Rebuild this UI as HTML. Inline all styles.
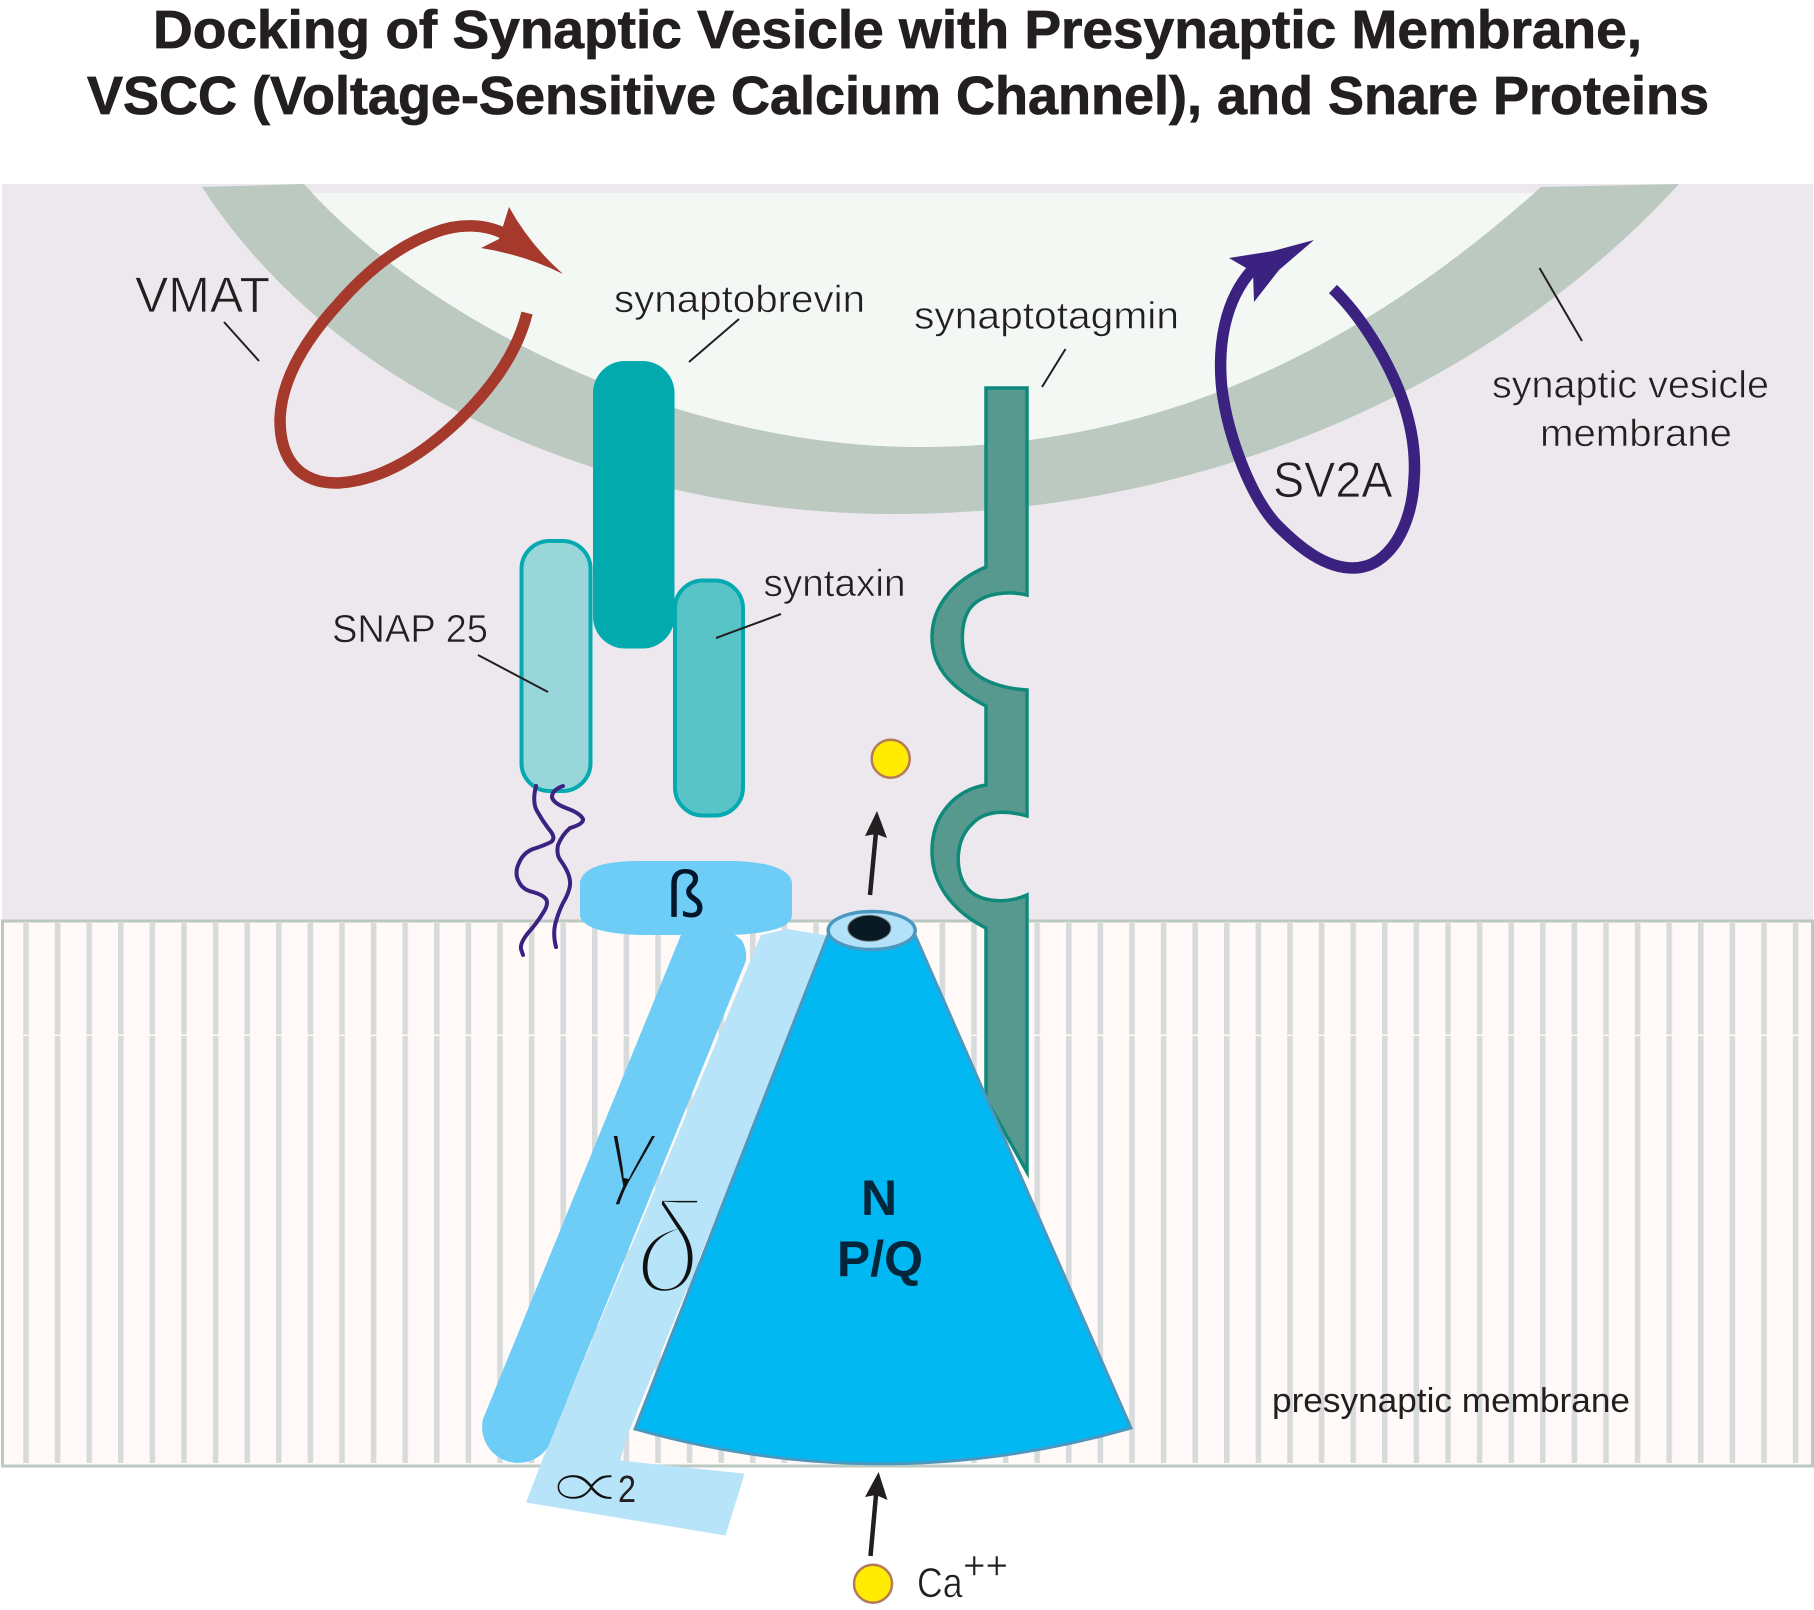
<!DOCTYPE html>
<html><head><meta charset="utf-8"><style>html,body{margin:0;padding:0;background:#fff}svg{display:block}
text{font-family:"Liberation Sans",sans-serif}</style></head><body>
<svg width="1814" height="1610" viewBox="0 0 1814 1610" xmlns="http://www.w3.org/2000/svg">
<defs>
<pattern id="st" patternUnits="userSpaceOnUse" x="23.2" y="0" width="31.6" height="10"><rect x="0" y="0" width="5.6" height="10" fill="#d8dbdc"/></pattern>
<clipPath id="ic"><rect x="0" y="193" width="1814" height="400"/></clipPath>
</defs>
<rect width="1814" height="1610" fill="#fff"/>
<rect x="2" y="184" width="1811" height="738" fill="#ece8ed"/>
<!-- membrane -->
<path d="M202 187 C340 400 620 514 895 514 C1200 514 1490 390 1679 184 L1541 187 C1370 340 1170 447 920 447 C680 447 430 325 304 184 Z" fill="#bbc9c0"/>
<path d="M304 184 C430 325 680 447 920 447 C1170 447 1370 340 1541 187 Z" fill="#f3f8f5" clip-path="url(#ic)"/>
<!-- presynaptic membrane -->
<rect x="2.5" y="921" width="1810" height="545" fill="#fffaf8"/>
<rect x="2.5" y="923" width="1810" height="540" fill="url(#st)"/>
<rect x="2.5" y="1034.5" width="1810" height="1.5" fill="#fffaf8"/>
<rect x="2.5" y="921" width="1810" height="545" fill="none" stroke="#bbc9c0" stroke-width="3"/>
<!-- VMAT arrow -->
<path d="M527 313 C518 350 495 385 459 420 C425 452 385 480 339 483 C300 484 280 460 280 420 C281 380 305 340 339 303 C370 268 400 245 436 232 C460 223 485 224 505 234" fill="none" stroke="#a5392b" stroke-width="11.5"/>
<path d="M509 207 Q530 245 563 274 Q525 255 481 248 L499 239 Z" fill="#a5392b"/>
<!-- SV2A arrow -->
<path d="M1333 289 C1360 315 1385 355 1400 393 C1412 425 1416 455 1414 480 C1412 525 1390 568 1353 568 C1325 568 1300 548 1278 526 C1250 497 1228 435 1222 390 C1217 345 1225 300 1252 270" fill="none" stroke="#3b2180" stroke-width="11.5"/>
<path d="M1314 240 L1279 270 L1254 302 L1253 272 L1229 258 L1273 251 Z" fill="#3b2180"/>
<!-- snare -->
<rect x="593" y="361" width="81.5" height="287.5" rx="32" fill="#02aaae"/>
<rect x="521.5" y="541" width="69" height="250" rx="28" fill="#98d6d9" stroke="#04aab0" stroke-width="4"/>
<rect x="675" y="580.5" width="68" height="235" rx="28" fill="#58c4c8" stroke="#04aab0" stroke-width="4"/>
<!-- squiggles -->
<g fill="none" stroke="#3b2180" stroke-width="4" stroke-linecap="round">
<path d="M536 786 Q532 802 537 811 Q542 820 548 828 Q557 838 551 842 Q543 846 533 849 Q523 853 519 863 Q514 873 519 882 Q523 890 533 892 Q543 895 546 899 Q549 904 543 913 Q537 923 528 933 Q520 943 521 949 L523 955"/>
<path d="M563 786 Q552 790 552 797 Q553 803 566 808 Q580 813 583 819 Q584 824 570 828 Q562 835 558 845 Q556 855 561 861 Q571 875 570 885 Q569 893 563 903 Q558 913 555 925 Q553 935 556 947"/>
</g>
<!-- synaptotagmin -->
<path d="M986 388 H1027 V595 C1010 591 985 592 972 606 C960 618 959 652 970 668 C982 683 1008 689 1027 690 V816 C1005 810 985 810 972 824 C955 840 955 870 965 885 C975 902 1005 905 1027 895 V1172 L986 1099 V928 C960 915 932 890 932 851 C932 815 955 790 986 785 V706 C955 690 932 670 932 637 C932 605 955 580 986 567 Z" fill="#58998f" stroke="#0f8a7a" stroke-width="3.5"/>
<!-- delta bar -->
<path d="M761 935 L787 929 L830 936 L628 1434 L620 1460.5 L744.6 1473.6 L725.5 1535.5 L526 1502.5 L541.5 1462 Z" fill="#b8e4fa"/>
<!-- gamma bar -->
<path d="M683 930 L729 930 L742 940.5 Q748 952 745.5 962 L548 1447 A36 36 0 0 1 483 1419 Z" fill="#6dcdf7"/>
<!-- beta -->
<path d="M580 882 Q584 861 640 861 L735 861 Q788 863 792 882 L792 916 Q790 933 730 935 L640 935 Q584 933 580 916 Z" fill="#6dcdf7"/>
<!-- delta glyph (beneath the cone so its halo cannot bleed over it) -->
<text x="636" y="1293" font-size="132" textLength="64" lengthAdjust="spacingAndGlyphs" fill="#111" stroke="#b8e4fa" stroke-width="7" style="font-style:italic">δ</text>
<!-- cone -->
<path d="M828 935 L635 1429 Q883 1499 1131 1428 L915 935 Z" fill="#02b8f2" stroke="#4a98c0" stroke-width="3"/>
<ellipse cx="871.7" cy="930.5" rx="43.5" ry="19" fill="#b3e1fa" stroke="#4a98c0" stroke-width="3.5"/>
<ellipse cx="869.3" cy="928.3" rx="21.5" ry="13" fill="#0a1a24" stroke="#777" stroke-width="1"/>
<!-- arrows -->
<line x1="870" y1="895" x2="876" y2="832" stroke="#231f20" stroke-width="4.5"/>
<path d="M877 811 L887 838 L876 834 L865 836 Z" fill="#231f20"/>
<line x1="870.5" y1="1556" x2="876" y2="1495" stroke="#231f20" stroke-width="4.5"/>
<path d="M878.6 1472 L887.5 1500 L876 1495 L865 1497 Z" fill="#231f20"/>
<circle cx="890.7" cy="758.7" r="19" fill="#ffec00" stroke="#b57a5a" stroke-width="2.5"/>
<circle cx="873" cy="1583.7" r="19" fill="#ffec00" stroke="#b57a5a" stroke-width="2.5"/>
<!-- leader lines -->
<g stroke="#231f20" stroke-width="2" fill="none">
<line x1="224" y1="322" x2="259" y2="361"/>
<line x1="739" y1="319" x2="689" y2="362"/>
<line x1="781" y1="614" x2="716" y2="638"/>
<line x1="478" y1="655" x2="548" y2="692"/>
<line x1="1065.5" y1="349" x2="1042" y2="387"/>
<line x1="1539.5" y1="268" x2="1582" y2="341"/>
</g>
<!-- title -->
<text x="153" y="48" font-size="54" font-weight="700" fill="#231f20" stroke="#231f20" stroke-width=".8" textLength="1489" lengthAdjust="spacingAndGlyphs">Docking of Synaptic Vesicle with Presynaptic Membrane,</text>
<text x="87" y="114" font-size="54" font-weight="700" fill="#231f20" stroke="#231f20" stroke-width=".8" textLength="1622" lengthAdjust="spacingAndGlyphs">VSCC (Voltage-Sensitive Calcium Channel), and Snare Proteins</text>
<!-- labels -->
<g fill="#231f20">
<text x="135" y="312" font-size="50" textLength="135" lengthAdjust="spacingAndGlyphs" stroke="#ece8ed" stroke-width=".8">VMAT</text>
<text x="614" y="312" font-size="38" textLength="251" lengthAdjust="spacingAndGlyphs" stroke="#f3f8f5" stroke-width=".6">synaptobrevin</text>
<text x="332" y="642" font-size="39" textLength="156" lengthAdjust="spacingAndGlyphs" stroke="#ece8ed" stroke-width=".6">SNAP 25</text>
<text x="763.5" y="596" font-size="38" textLength="142" lengthAdjust="spacingAndGlyphs" stroke="#ece8ed" stroke-width=".6">syntaxin</text>
<text x="914" y="328.5" font-size="38" textLength="265" lengthAdjust="spacingAndGlyphs" stroke="#f3f8f5" stroke-width=".6">synaptotagmin</text>
<text x="1492" y="397.5" font-size="38" textLength="277" lengthAdjust="spacingAndGlyphs" stroke="#ece8ed" stroke-width=".6">synaptic vesicle</text>
<text x="1540" y="446" font-size="38" textLength="192" lengthAdjust="spacingAndGlyphs" stroke="#ece8ed" stroke-width=".6">membrane</text>
<text x="1273" y="497" font-size="50" textLength="119.5" lengthAdjust="spacingAndGlyphs" stroke="#ece8ed" stroke-width=".8">SV2A</text>
<text x="1272" y="1412" font-size="34" textLength="358" lengthAdjust="spacingAndGlyphs">presynaptic membrane</text>
<text x="917" y="1597" font-size="42" textLength="45.5" lengthAdjust="spacingAndGlyphs" stroke="#fff" stroke-width=".6">Ca</text>
<text x="963" y="1579" font-size="40" textLength="45" lengthAdjust="spacingAndGlyphs" stroke="#fff" stroke-width=".6">++</text>
<text x="618" y="1502" font-size="38" textLength="18" lengthAdjust="spacingAndGlyphs">2</text>
</g>
<text x="543" y="1508" font-size="70" textLength="83" lengthAdjust="spacingAndGlyphs" fill="#111" style="font-family:'DejaVu Sans',sans-serif" stroke="#b8e4fa" stroke-width="2.5">∝</text>
<text x="667" y="917" font-size="66" textLength="38" lengthAdjust="spacingAndGlyphs" fill="#04162a">ß</text>
<text x="605" y="1186" font-size="100" textLength="50" lengthAdjust="spacingAndGlyphs" fill="#111" stroke="#6dcdf7" stroke-width="5.5" style="font-style:italic">γ</text>
<text x="879" y="1215" font-size="50" font-weight="700" fill="#04263a" text-anchor="middle">N</text>
<text x="880" y="1276" font-size="50" font-weight="700" fill="#04263a" text-anchor="middle">P/Q</text>
</svg>
</body></html>
